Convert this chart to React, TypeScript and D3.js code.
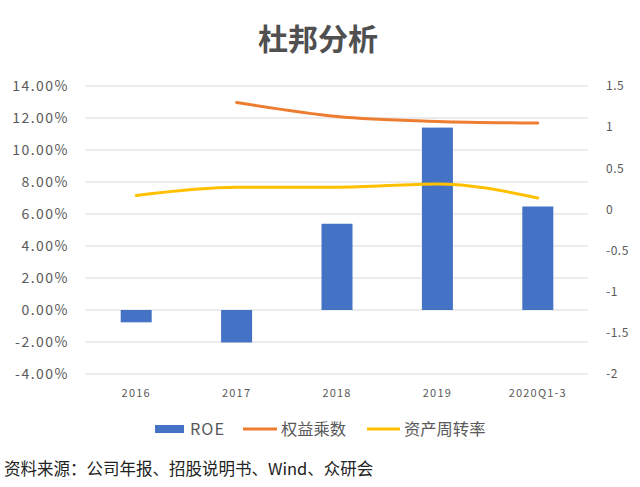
import { useRef, useEffect } from 'react';
import * as d3 from 'd3';

const categories = ['2016', '2017', '2018', '2019', '2020Q1-3'];
const roe = [-0.77, -2.03, 5.39, 11.4, 6.47];
const equityMultiplier = [null, 1.3, 1.13, 1.07, 1.05];
const assetTurnover = [0.17, 0.27, 0.27, 0.31, 0.14];
const leftTicks = [14, 12, 10, 8, 6, 4, 2, 0, -2, -4];
const rightTicks = [1.5, 1, 0.5, 0, -0.5, -1, -1.5, -2];

export default function App() {
  const svgRef = useRef<SVGSVGElement>(null);

  useEffect(() => {
    const width = 640;
    const height = 487;
    const margin = { top: 86, right: 52, bottom: 113, left: 86 };
    const font = '"Noto Sans CJK SC", "Noto Sans", sans-serif';

    const svg = d3.select(svgRef.current)
      .attr('width', width)
      .attr('height', height)
      .style('display', 'block')
      .style('position', 'absolute')
      .style('left', 0)
      .style('top', 0);
    svg.selectAll('*').remove();

    svg.append('rect').attr('width', width).attr('height', height).attr('fill', '#fff');

    const x = d3.scaleBand()
      .domain(categories)
      .range([margin.left, width - margin.right]);

    const yLeft = d3.scaleLinear()
      .domain([-4, 14])
      .range([height - margin.bottom, margin.top]);

    const yRight = d3.scaleLinear()
      .domain([-2, 1.5])
      .range([height - margin.bottom, margin.top]);

    // gridlines
    svg.append('g')
      .selectAll('line')
      .data(leftTicks)
      .enter()
      .append('line')
      .attr('x1', margin.left)
      .attr('x2', width - margin.right)
      .attr('y1', d => yLeft(d))
      .attr('y2', d => yLeft(d))
      .attr('stroke', '#d9d9d9')
      .attr('stroke-width', 1);

    // left axis
    const left = svg.append('g')
      .attr('transform', `translate(${margin.left - 14}, 0)`)
      .call(d3.axisLeft(yLeft).tickValues(leftTicks).tickSize(0).tickFormat(d => (+d).toFixed(2) + '%'));
    left.select('.domain').remove();
    left.selectAll('text').attr('font-family', font).attr('font-size', 14).attr('fill', '#595959').attr('letter-spacing', 1.5);

    // right axis
    const right = svg.append('g')
      .attr('transform', `translate(${width - margin.right + 15}, 0)`)
      .call(d3.axisRight(yRight).tickValues(rightTicks).tickSize(0).tickFormat(d => String(d)));
    right.select('.domain').remove();
    right.selectAll('text').attr('font-family', font).attr('font-size', 12).attr('fill', '#595959').attr('letter-spacing', 0.5);

    // bottom labels
    const bottom = svg.append('g')
      .attr('transform', `translate(0, ${height - margin.bottom + 12})`)
      .call(d3.axisBottom(x).tickSize(0));
    bottom.select('.domain').remove();
    bottom.selectAll('text').attr('font-family', font).attr('font-size', 11).attr('fill', '#595959').attr('letter-spacing', 1.2);

    // bars
    const bw = 31;
    svg.append('g')
      .selectAll('rect')
      .data(roe)
      .enter()
      .append('rect')
      .attr('x', (d, i) => (x(categories[i]) as number) + x.bandwidth() / 2 - bw / 2)
      .attr('y', d => yLeft(Math.max(0, d)))
      .attr('width', bw)
      .attr('height', d => Math.abs(yLeft(d) - yLeft(0)))
      .attr('fill', '#4472c4');

    const line = d3.line<number | null>()
      .defined(d => d !== null)
      .x((d, i) => (x(categories[i]) as number) + x.bandwidth() / 2)
      .y(d => yRight(d as number))
      .curve(d3.curveMonotoneX);

    svg.append('path')
      .datum(equityMultiplier)
      .attr('d', line)
      .attr('fill', 'none')
      .attr('stroke', '#ed7d31')
      .attr('stroke-width', 3)
      .attr('stroke-linecap', 'round');

    svg.append('path')
      .datum(assetTurnover)
      .attr('d', line)
      .attr('fill', 'none')
      .attr('stroke', '#ffc000')
      .attr('stroke-width', 3)
      .attr('stroke-linecap', 'round');

    // title
    svg.append('text')
      .attr('x', 318)
      .attr('y', 50)
      .attr('text-anchor', 'middle')
      .attr('font-family', font)
      .attr('font-size', 30)
      .attr('font-weight', 'bold')
      .attr('fill', '#505050')
      .text('杜邦分析');

    // legend
    const legend = svg.append('g').attr('font-family', font).attr('font-size', 16.3).attr('fill', '#595959');
    legend.append('rect').attr('x', 155).attr('y', 425).attr('width', 29).attr('height', 8).attr('fill', '#4472c4');
    legend.append('text').attr('x', 190).attr('y', 435).attr('letter-spacing', 1).text('ROE');
    legend.append('line').attr('x1', 243).attr('x2', 277).attr('y1', 429).attr('y2', 429)
      .attr('stroke', '#ed7d31').attr('stroke-width', 3);
    legend.append('text').attr('x', 281).attr('y', 435).text('权益乘数');
    legend.append('line').attr('x1', 367).attr('x2', 400).attr('y1', 429).attr('y2', 429)
      .attr('stroke', '#ffc000').attr('stroke-width', 3);
    legend.append('text').attr('x', 404).attr('y', 435).text('资产周转率');

    // source
    svg.append('text')
      .attr('x', 4)
      .attr('y', 475)
      .attr('font-family', font)
      .attr('font-size', 16.5)
      .attr('fill', '#222')
      .text('资料来源：公司年报、招股说明书、Wind、众研会');
  }, []);

  return <svg ref={svgRef} />;
}
